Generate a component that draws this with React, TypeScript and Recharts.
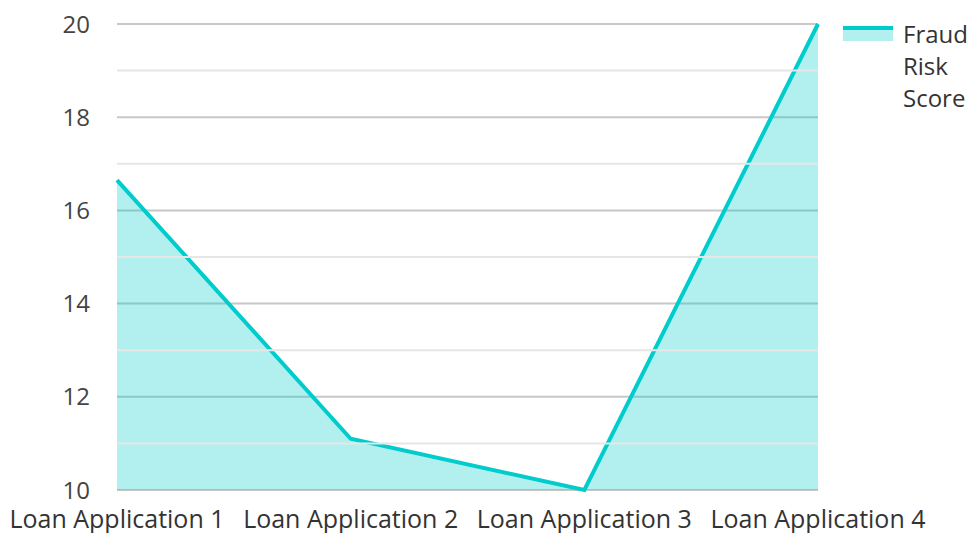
import React from "react";
import { AreaChart, Area, XAxis, YAxis, CartesianGrid, ReferenceLine, Legend } from "recharts";

const categories = ["Loan Application 1", "Loan Application 2", "Loan Application 3", "Loan Application 4"];
const fraudRiskScore = [16.65, 11.1, 10.0, 20.0];
const yTicks = [10, 12, 14, 16, 18, 20];
const minorTicks = [11, 13, 15, 17, 19];
const seriesName = "Fraud Risk Score";

const data = categories.map((c, i) => ({ name: c, score: fraudRiskScore[i] }));

const FONT = "'Open Sans', sans-serif";
const STROKE = "#00cccc";

const LegendContent = () => (
  <div style={{ display: "flex", alignItems: "flex-start", fontFamily: FONT, fontSize: 24, color: "#333", lineHeight: "32px" }}>
    <svg width={50} height={20} style={{ marginTop: 7, flexShrink: 0 }}>
      <rect x={0} y={2} width={50} height={14} fill={STROKE} fillOpacity={0.3} />
      <line x1={0} x2={50} y1={3} y2={3} stroke={STROKE} strokeWidth={4} />
    </svg>
    <div style={{ marginLeft: 10, width: 70 }}>Fraud Risk Score</div>
  </div>
);

export default function App() {
  return (
    <div style={{ position: "absolute", left: 0, top: 0 }}>
      <AreaChart width={972} height={533} data={data} margin={{ top: 24, right: 24, left: 0, bottom: 0 }}>
        <CartesianGrid vertical={false} stroke="#c8c8c8" strokeWidth={2} />
        {minorTicks.map((t) => (
          <ReferenceLine key={t} y={t} stroke="#e6e6e6" strokeWidth={2} ifOverflow="extendDomain" />
        ))}
        <XAxis
          dataKey="name"
          height={43}
          axisLine={false}
          tickLine={false}
          tickSize={0}
          tickMargin={20}
          interval={0}
          tick={{ fill: "#333", fontSize: 25, fontFamily: FONT }}
        />
        <YAxis
          width={117}
          domain={[10, 20]}
          ticks={yTicks}
          axisLine={false}
          tickLine={false}
          tickSize={0}
          tickMargin={27}
          tick={{ fill: "#444", fontSize: 24, fontFamily: FONT }}
        />
        <Legend
          layout="vertical"
          verticalAlign="top"
          align="right"
          wrapperStyle={{ top: 18, left: 843, width: 130 }}
          content={LegendContent}
        />
        <Area
          type="linear"
          dataKey="score"
          name={seriesName}
          stroke={STROKE}
          strokeWidth={4}
          fill={STROKE}
          fillOpacity={0.3}
          baseValue={10}
          isAnimationActive={false}
          dot={false}
          activeDot={false}
        />
      </AreaChart>
    </div>
  );
}
